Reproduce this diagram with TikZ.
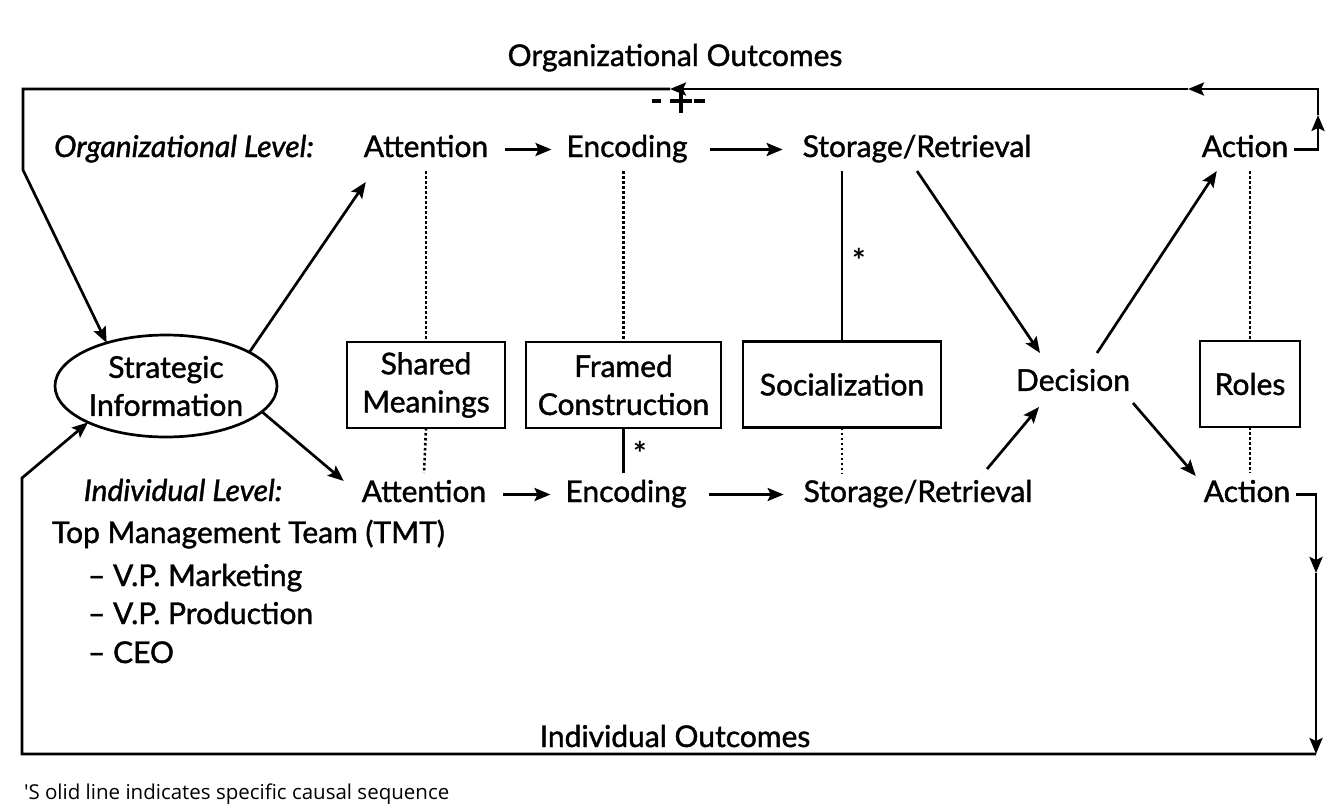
\documentclass[tikz,border=0pt]{standalone}
\usepackage{fontspec}
\setmainfont{Lato}[UprightFeatures={FakeBold=1.3},ItalicFeatures={FakeBold=1.3}]
\newfontfamily\notefont{Open Sans}
\usetikzlibrary{arrows.meta,shapes.geometric}
\begin{document}
\begin{tikzpicture}[x=1pt,y=-1pt,
  every node/.style={inner sep=0pt, outer sep=0pt, font=\fontsize{30}{38}\selectfont},
  lbl/.style={anchor=base, text height=22pt, text depth=7pt, inner xsep=4pt, inner ysep=7pt},
  box/.style={draw, line width=2.8pt, align=center, minimum height=86pt},
  conn/.style={line width=2.7pt},
  arr/.style={conn, -{Stealth[length=16pt,width=13pt,inset=3pt]}},
  dots/.style={line width=2.6pt, dash pattern=on 2.5pt off 2.5pt},
  starmark/.style={anchor=base, text depth=-9pt, font=\fontsize{32}{32}\selectfont\bfseries},
]
\useasboundingbox (0,0) rectangle (1333,804);
\fill[white] (0,0) rectangle (1333,804);

% title
\node[anchor=base] (title) at (675,66) {Organizational Outcomes};

% organizational row
\node[lbl, font=\fontsize{30}{38}\selectfont\itshape] (orglevel) at (184,157) {Organizational Level:};
\node[lbl] (oatt) at (426,157) {Attention};
\node[lbl] (oenc) at (627,157) {Encoding};
\node[lbl] (osto) at (917,157) {Storage/Retrieval};
\node[lbl] (oact) at (1245,157) {Action};

% middle
\node[ellipse, draw, line width=2.7pt, minimum width=222pt, minimum height=102pt, align=center] (sinfo) at (166,386) {Strategic\\Information};
\node[box, minimum width=158pt] (shared) at (426,385) {Shared\\Meanings};
\node[box, minimum width=195pt] (framed) at (623.5,385) {Framed\\Construction};
\node[box, minimum width=198pt] (soc) at (842,384.5) {Socialization};
\node[minimum width=113pt, minimum height=54pt] (decision) at (1073,380) {Decision};
\node[box, minimum width=100pt] (roles) at (1250,384) {Roles};

% individual row
\node[lbl, font=\fontsize{30}{38}\selectfont\itshape] (indlevel) at (183,501) {Individual Level:};
\node[lbl] (iatt) at (424,502) {Attention};
\node[lbl] (ienc) at (626,502) {Encoding};
\node[lbl] (isto) at (918,502) {Storage/Retrieval};
\node[lbl] (iact) at (1247,502) {Action};

% TMT list
\node[anchor=base west] (tmt) at (52,543) {Top Management Team (TMT)};
\node[anchor=base west] (vpm) at (88,586) {-- V.P. Marketing};
\node[anchor=base west] (vpp) at (88,624) {-- V.P. Production};
\node[anchor=base west] (ceo) at (88,663) {-- CEO};

% bottom
\node[anchor=base] (indout) at (675,747) {Individual Outcomes};
\node[anchor=north west, font=\notefont\fontsize{20.5}{24}\selectfont] (note) at (24,784) {'S olid line indicates specific causal sequence};

% row arrows
\draw[arr, shorten <=13pt, shorten >=11pt] (oatt) -- (oenc);
\draw[arr, shorten <=18pt, shorten >=16pt] (oenc) -- (osto);
\draw[arr, shorten <=13pt, shorten >=11pt] (iatt) -- (ienc);
\draw[arr, shorten <=18pt, shorten >=16pt] (ienc) -- (isto);

% vertical links
\draw[dots] (oatt.south) -- (shared.north);
\draw[dots] (shared.south) -- (iatt.north);
\draw[dots] (oenc.south -| framed.north) -- (framed.north);
\draw[conn] (framed.south) -- (framed.south |- ienc.north);
\draw[conn] (osto.south -| soc.north) -- (soc.north);
\draw[dots] (soc.south) -- (soc.south |- isto.north);
\draw[dots] (oact.south -| roles.north) -- (roles.north);
\draw[dots] (roles.south) -- (roles.south |- iact.north);

\node[starmark] (star1) at (859,272) {*};
\node[starmark] (star2) at (640,465) {*};

% diagonal arrows
\draw[arr] (sinfo.22) -- ([xshift=6pt,yshift=-11pt]oatt.south west);
\draw[arr] (sinfo.-15) -- ([xshift=-14pt,yshift=-8pt]iatt.north west);
\draw[arr] (osto.south) -- ([xshift=-33pt]decision.north);
\draw[arr] ([xshift=24pt]decision.north) -- ([xshift=19pt]oact.south west);
\draw[arr] ([xshift=69pt,yshift=4pt]isto.north) -- ([xshift=-34pt]decision.south);
\draw[arr] ([xshift=60pt,yshift=4pt]decision.south) -- ([xshift=-4pt,yshift=-3pt]iact.north west);

% outer feedback frame
\coordinate (tr) at (1318,89);
\coordinate (trup) at (1318,115);
\coordinate (toparr) at (1188,89);
\coordinate (topmid) at (670,89);
\coordinate (tl) at (23,89);
\coordinate (tlbend) at (23,170);
\coordinate (brarr) at (1316,573);
\coordinate (br) at (1316,754);
\coordinate (bl) at (22,754);
\coordinate (blbend) at (22,478);

\draw[arr] ([xshift=2pt]oact.east) -- (oact.east -| tr) -- (trup);
\draw[arr] (trup) -- (tr) -- (toparr);
\draw[arr] (toparr) -- (topmid);
\draw[arr] (topmid) -- (tl) -- (tlbend) -- (sinfo.144);

\draw[arr] ([xshift=2pt]iact.east) -- (iact.east -| br) -- (brarr);
\draw[arr] (brarr) -- (br);
\draw[arr] (br) -- (bl) -- (blbend) -- (sinfo.205);

% small mark under the top line
\draw[line width=3.4pt] (652,101) -- (661,101) (670,101) -- (692,101) (694,101) -- (705,101) (681,90) -- (681,113);
\end{tikzpicture}
\end{document}
